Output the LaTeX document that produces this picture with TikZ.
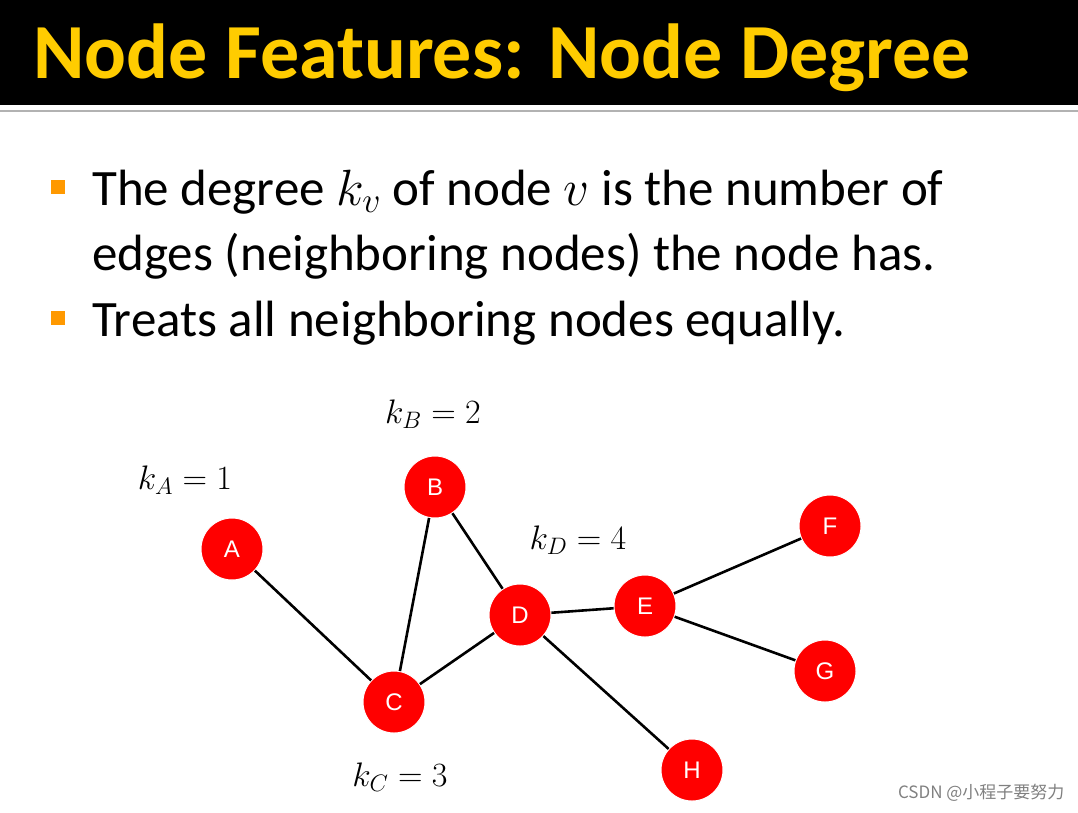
\RequirePackage{fix-cm}
\documentclass[tikz,border=0pt]{standalone}
\usepackage{fontspec}
\setmainfont{Carlito}
\newfontfamily\arialf{Liberation Sans}
\newfontfamily\cjk{Noto Sans CJK SC}
\begin{document}
\begin{tikzpicture}[x=1pt,y=-1pt,
  vtx/.style={circle,fill=red,draw=white,line width=1pt,minimum size=62pt,inner sep=0pt,text=white,font=\arialf\fontsize{24}{24}\selectfont},
  edge/.style={line width=2.6pt},
  lbl/.style={font=\fontsize{34}{34}\selectfont},
  bul/.style={fill=orange!80!yellow,minimum size=14pt,inner sep=0pt},
  btxt/.style={anchor=base west,font=\fontsize{51}{51}\selectfont,inner sep=0pt}]
\useasboundingbox (0,0) rectangle (1078,812);
\fill[black] (0,0) rectangle (1078,105);
\draw[gray!60,line width=2pt] (0,111) -- (1078,111);
\node[anchor=base west,inner sep=0pt,text={rgb,255:red,255;green,204;blue,0},font=\bfseries\fontsize{78}{78}\selectfont] (title) at (33,78) {Node Features: Node Degree};
\node[bul] (b1) at (58,187) {};
\node[bul] (b2) at (58,318) {};
\node[btxt] (t1) at (92,205) {The degree $k_v$ of node $v$ is the number of};
\node[btxt] (t2) at (92,270) {edges (neighboring nodes) the node has.};
\node[btxt] (t3) at (92,336) {Treats all neighboring nodes equally.};
\node[vtx] (A) at (232,549) {A};
\node[vtx] (B) at (435,487) {B};
\node[vtx] (C) at (394,702) {C};
\node[vtx] (D) at (520,615) {D};
\node[vtx] (E) at (645,606) {E};
\node[vtx] (F) at (830,526) {F};
\node[vtx] (G) at (825,671) {G};
\node[vtx] (H) at (692,770) {H};
\draw[edge] (A) -- (C);
\draw[edge] (B) -- (C);
\draw[edge] (B) -- (D);
\draw[edge] (C) -- (D);
\draw[edge] (D) -- (E);
\draw[edge] (D) -- (H);
\draw[edge] (E) -- (F);
\draw[edge] (E) -- (G);
\node[lbl] (kA) at (185,480) {$k_A=1$};
\node[lbl] (kB) at (433,414) {$k_B=2$};
\node[lbl] (kD) at (578,540) {$k_D=4$};
\node[lbl] (kC) at (400,777) {$k_C=3$};
\node[anchor=east,text=gray,font=\cjk\fontsize{17}{17}\selectfont] (wm) at (1068,793) {CSDN @小程子要努力};
\end{tikzpicture}
\end{document}
